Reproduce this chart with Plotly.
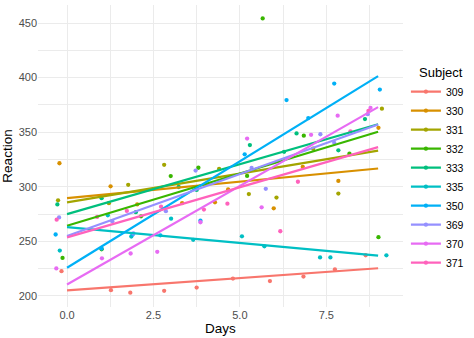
import numpy as np
import plotly.graph_objects as go

# ---- data (sleepstudy subset, points jittered horizontally as shown) ----
subjects = ["309", "330", "331", "332", "333", "335", "350", "369", "370", "371"]
days = [0, 1, 2, 3, 4, 5, 6, 7, 8, 9]

reaction = {
    "309": [222.73, 205.27, 202.98, 204.71, 207.72, 215.96, 213.63, 217.73, 224.30, 237.31],
    "330": [321.54, 300.40, 283.86, 285.13, 285.80, 297.59, 280.24, 318.26, 305.35, 354.05],
    "331": [287.61, 285.00, 301.82, 320.12, 316.28, 293.32, 290.08, 334.82, 293.75, 371.58],
    "332": [234.86, 242.81, 272.96, 309.77, 317.46, 309.99, 454.16, 346.83, 330.30, 253.86],
    "333": [283.84, 289.55, 276.77, 299.80, 297.17, 338.17, 332.02, 348.84, 333.36, 362.04],
    "335": [241.61, 273.95, 254.49, 270.84, 251.45, 254.64, 245.45, 235.31, 235.33, 237.25],
    "350": [256.29, 243.46, 256.20, 255.53, 268.92, 329.72, 379.44, 362.91, 394.49, 389.05],
    "369": [271.92, 268.44, 257.24, 277.66, 314.82, 317.21, 298.14, 348.12, 340.28, 366.51],
    "370": [225.26, 234.52, 238.90, 240.47, 267.54, 344.19, 281.15, 347.59, 365.16, 372.23],
    "371": [269.88, 272.44, 277.90, 281.79, 279.17, 284.51, 259.27, 304.63, 350.78, 369.47],
}

# jittered day values of the plotted points
days_jittered = {
    "309": [-0.16, 1.27, 1.83, 2.81, 3.75, 4.80, 5.87, 6.84, 7.75, 8.64],
    "330": [-0.22, 1.26, 2.03, 3.33, 4.28, 4.66, 5.98, 6.82, 7.85, 9.01],
    "331": [-0.26, 1.21, 1.77, 2.81, 4.40, 5.26, 6.06, 7.12, 7.85, 9.11],
    "332": [-0.13, 1.00, 2.14, 3.00, 3.80, 5.21, 5.66, 6.85, 8.17, 9.01],
    "333": [-0.28, 1.00, 1.99, 3.23, 3.75, 5.29, 6.28, 6.64, 7.85, 8.62],
    "335": [-0.21, 1.18, 1.86, 3.01, 3.65, 5.06, 5.71, 7.32, 7.62, 9.24],
    "350": [-0.33, 1.00, 1.90, 2.70, 3.86, 5.14, 6.35, 6.98, 7.73, 9.05],
    "369": [-0.23, 1.31, 1.92, 2.86, 3.72, 5.34, 5.75, 7.33, 7.73, 8.70],
    "370": [-0.31, 1.01, 1.84, 2.61, 3.86, 5.21, 5.63, 7.06, 7.83, 8.78],
    "371": [-0.30, 0.87, 1.73, 2.72, 3.96, 4.64, 6.17, 6.68, 8.20, 8.72],
}

colors = ["#F8766D", "#D89000", "#A3A500", "#39B600", "#00BF7D",
          "#00BFC4", "#00B0F6", "#9590FF", "#E76BF3", "#FF62BC"]

x_ticks = [0, 2.5, 5, 7.5]
x_tick_labels = ["0.0", "2.5", "5.0", "7.5"]
y_ticks = [200, 250, 300, 350, 400, 450]

fig = go.Figure()

# points layer
for s, c in zip(subjects, colors):
    fig.add_trace(go.Scatter(
        x=days_jittered[s], y=reaction[s], mode="markers",
        marker=dict(color=c, size=4.3, line=dict(width=0)),
        legendgroup=s, showlegend=False, hoverinfo="x+y"))

# linear fits layer
for s, c in zip(subjects, colors):
    d = np.array(days, dtype=float)
    r = np.array(reaction[s], dtype=float)
    slope, intercept = np.polyfit(d, r, 1)
    xs = np.array([d.min(), d.max()])
    fig.add_trace(go.Scatter(
        x=xs, y=intercept + slope * xs, mode="lines",
        line=dict(color=c, width=2.2),
        legendgroup=s, showlegend=False, hoverinfo="skip"))

# legend keys
for s, c in zip(subjects, colors):
    fig.add_trace(go.Scatter(
        x=[None], y=[None], mode="lines+markers", name=s,
        line=dict(color=c, width=2.2), marker=dict(color=c, size=4.3),
        legendgroup=s))

font = "Liberation Sans, Arial, sans-serif"
fig.update_layout(
    width=474, height=338,
    margin=dict(l=35, r=61, t=5, b=31),
    paper_bgcolor="white", plot_bgcolor="white",
    font=dict(family=font, color="#000000"),
    showlegend=True,
    legend=dict(
        font=dict(size=10.5, color="#000000"),
        x=1.008, xanchor="left", y=0.43, yanchor="middle",
        tracegroupgap=0, itemwidth=30, bgcolor="rgba(0,0,0,0)",
    ),
    annotations=[dict(
        text="Subject", xref="paper", yref="paper", x=1.0397, y=0.778,
        xanchor="left", yanchor="middle", showarrow=False,
        font=dict(size=13, color="#000000"))],
    xaxis=dict(
        range=[-0.84, 9.72], tickvals=x_ticks, ticktext=x_tick_labels,
        showgrid=True, gridcolor="#EBEBEB", gridwidth=1.1,
        minor=dict(dtick=1.25, tick0=0, showgrid=True, gridcolor="#EBEBEB", gridwidth=0.6),
        zeroline=False, showline=False, ticks="",
        tickfont=dict(size=11, color="#4D4D4D"),
        title=dict(text="Days", font=dict(size=13.5, color="#000000"), standoff=2),
    ),
    yaxis=dict(
        range=[189.9, 466.5], tickvals=y_ticks,
        showgrid=True, gridcolor="#EBEBEB", gridwidth=1.1,
        minor=dict(dtick=25, tick0=0, showgrid=True, gridcolor="#EBEBEB", gridwidth=0.6),
        zeroline=False, showline=False, ticks="",
        tickfont=dict(size=11, color="#4D4D4D"),
        title=dict(text="Reaction", font=dict(size=13.5, color="#000000"), standoff=4),
    ),
)

fig.write_html("out.html")
